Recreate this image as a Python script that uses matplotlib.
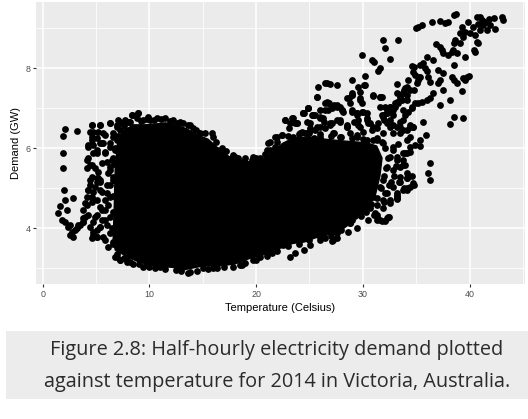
import matplotlib
matplotlib.use("Agg")
import matplotlib.pyplot as plt
from matplotlib.patches import Rectangle

# ---------------- data ----------------
# Dense core of the cloud (outline where the points overlap into solid black)
core_temp = [6.8, 7.8, 9.0, 10.5, 12.0, 13.5, 15.0, 16.5, 18.0, 19.5, 21.0, 22.3,
             23.5, 24.5, 25.5, 26.5, 27.5, 28.5, 29.5, 30.5, 31.2, 31.6, 31.8, 31.3,
             30.5, 29.5, 28.0, 26.5, 25.0, 23.5, 22.5, 21.5, 20.5, 19.5, 18.5, 17.5,
             16.5, 15.5, 14.5, 13.5, 12.5, 11.5, 10.5, 9.5, 8.5, 7.5, 7.0, 6.8, 6.7,
             6.6]
core_demand = [3.45, 3.3, 3.15, 3.05, 3.02, 2.97, 3.05, 3.05, 3.1, 3.25, 3.35, 3.5,
               3.62, 3.65, 3.75, 3.82, 3.85, 4.05, 4.25, 4.5, 4.85, 5.3, 5.75, 6.05,
               6.12, 6.15, 6.18, 6.22, 6.28, 6.25, 6.12, 5.9, 5.7, 5.66, 5.66, 5.78,
               5.98, 6.22, 6.33, 6.48, 6.58, 6.63, 6.6, 6.58, 6.58, 6.42, 6.1, 5.5, 4.5,
               3.7]

# Individually visible half-hourly observations (temperature, demand)
temp = [
    # hot end, top right
    38.75, 38.56, 40.68, 41.0, 41.15, 41.46, 41.78, 42.25, 43.03, 43.18, 41.93, 41.31,
    40.84, 41.0, 41.62, 42.4, 40.37, 40.06, 40.53, 40.68, 40.84, 40.43, 40.53, 39.59,
    39.28, 39.9, 39.12, 39.43, 39.12, 38.65, 38.5, 38.43, 38.81, 38.03, 37.71, 37.25,
    36.46, 35.53, 35.0, 35.21, 36.87, 37.25, 37.4, 37.56, 38.03, 38.34, 39.53, 38.56,
    31.93, 33.34, 32.09, 32.56, 31.62, 36.0, 36.62, 35.68, 35.37, 35.84, 36.0, 34.59,
    34.74, 34.9, 35.37, 35.21, 36.15, 36.31, 37.09, 37.56, 37.25, 37.09, 38.34, 38.5,
    38.81, 39.43, 39.74, 39.99, 39.59, 39.28, 37.56, 38.18, 37.25, 36.62, 36.31, 36.0,
    35.53, 35.21, 34.59, 34.28, 33.96, 34.43, 34.12, 34.28, 33.96, 33.81, 33.5, 33.65,
    33.34, 33.03, 32.87, 32.56, 32.25, 31.93, 31.78, 38.5, 39.43, 38.18, 35.68, 34.74,
    34.43, 33.5, 32.87, 32.25, 32.09,
    # warm band
    29.9, 30.84, 31.06, 31.46, 28.96, 30.21, 29.59, 27.56, 26.62, 25.84, 25.68, 28.5,
    28.96, 29.75, 30.99, 31.62, 30.21, 30.37, 30.53, 26.62, 27.25, 26.78, 27.87, 28.18,
    28.96, 29.43, 29.59, 24.43, 24.9, 25.37, 26.0, 24.75, 25.06, 25.53, 26.46, 27.09,
    27.56, 28.5, 28.81, 27.87, 27.25, 26.0, 24.59, 25.21, 31.78, 32.25, 31.62, 32.56,
    33.18, 33.81, 34.12, 33.5, 34.43, 34.74, 35.93, 35.37, 35.37, 34.43, 34.12, 33.81,
    33.5, 34.12, 34.74, 34.12, 33.5, 33.18, 33.18, 32.87, 36.31, 36.15, 36.31, 31.31,
    31.62, 32.09, 32.4, 31.15, 32.56, 32.25, 31.93, 28.81, 27.25, 27.56,
    32.87, 32.56, 32.25, 33.18, 32.87, 31.93, 31.62, 31.0, 31.31, 31.93, 30.99, 30.06,
    30.37, 29.43,
    33.98, 33.98, 33.35, 34.13, 34.6, 34.76, 33.82, 34.13, 33.2, 33.2, 32.41, 32.1,
    31.95, 31.32, 31.01, 31.32, 31.79, 32.26, 32.41, 30.7, 30.07, 28.82, 27.57, 27.1,
    26.48, 26.01, 25.07, 24.45, 23.66, 23.2,
    26.48, 26.88, 30.07, 28.98, 28.66, 29.76, 33.2, 33.82, 34.76, 26.79, 27.26, 27.57,
    28.04, 28.82, 29.45, 29.91, 30.38, 24.45, 25.23, 26.01, 22.73, 23.35, 23.66, 24.29,
    22.41, 21.95, 23.04, 21.79,
    25.07, 25.7, 26.32, 26.95, 27.88, 28.51, 29.13, 29.76, 30.7, 31.32, 31.95, 32.26,
    32.57, 33.04, 33.51, 34.13, 34.76, 35.07, 35.23, 33.2, 24.76, 27.26, 29.45, 25.38,
    25.68, 24.43, 24.9, 23.8, 25.37, 26.3, 26.77, 27.09, 27.56, 28.02, 26.46, 25.99,
    26.93, 27.87, 28.49, 28.96, 28.96, 29.74, 29.9, 29.43, 30.05, 30.37, 29.59, 30.99,
    31.62, 31.93, 32.56, 32.87, 33.18, 33.8, 34.12, 34.59, 34.9, 33.8, 33.49, 32.56,
    32.87, 33.8, 34.43, 34.12, 34.9, 34.43, 33.8, 33.18, 33.8, 33.49, 34.12, 34.43,
    33.8, 33.18, 32.56, 31.93, 31.3, 30.84, 31.3, 31.93, 31.46, 23.49, 24.12, 25.06,
    23.43,
    # ragged right and top border of the dense core
    29.0, 29.8, 30.3, 28.0, 27.8, 30.8, 31.3, 31.7, 32.0, 32.2, 32.4, 32.1, 32.8, 32.9,
    33.1, 32.6, 33.3, 30.5, 29.5, 28.6,
    24.0, 25.0, 26.0, 27.0, 28.0, 29.0, 30.0, 31.0, 31.8, 23.0, 22.0, 21.3,
    # upper and lower edge of the main cloud
    10.06, 10.69, 11.47, 11.94, 12.56, 13.19, 13.81, 14.12, 14.75, 15.84, 16.0, 16.78,
    16.94, 17.87, 18.34, 18.65, 19.59, 19.75, 20.37, 21.15, 21.31, 21.78, 22.4, 22.72,
    23.19, 23.81, 24.43, 24.9, 25.53, 26.0, 26.47, 21.78, 21.0, 16.31, 17.72, 13.34,
    15.69,
    9.2, 9.8, 10.4, 11.1, 12.2, 12.9, 13.6, 14.4, 15.2, 16.2, 17.2, 18.0, 19.0, 20.0,
    20.8,
    13.81, 11.94, 13.19, 15.06, 16.31, 17.87, 18.65, 19.75, 20.37, 21.62, 22.56, 23.5,
    10.06, 11.0, 13.66, 7.9, 8.5, 12.5, 14.5, 16.0, 17.0, 19.0, 21.0, 22.0, 9.0, 8.2,
    10.5,
    7.0, 7.6, 10.0, 11.5, 13.0, 15.5, 18.5, 20.0, 21.5, 23.0, 24.0, 25.0, 26.0, 27.0,
    # cold end, left
    2.09, 1.94, 3.19, 1.94, 1.94, 2.0, 2.09, 2.87, 1.62, 1.47, 2.25, 1.78, 2.09, 2.56,
    2.72, 2.56, 2.87, 3.19, 3.5, 3.81, 4.28, 3.97, 4.59, 4.28, 5.06, 4.44, 5.06, 5.37,
    4.12, 4.59, 5.22, 4.12, 4.75, 5.06, 4.28, 4.59, 4.44, 4.59, 5.37, 5.22, 5.06, 5.53,
    5.84, 6.0, 5.84, 6.31, 6.94, 7.25, 7.72, 8.34, 8.97, 8.19, 8.81, 9.44, 9.9, 6.62,
    6.31, 6.78, 6.62, 6.31, 6.62, 6.31, 6.0, 5.53, 5.84, 4.9, 5.06, 5.37, 4.75, 5.06,
    4.59, 5.84, 6.16, 6.94, 7.25, 7.87, 9.75, 9.44, 3.81, 4.9, 5.53, 6.94, 7.25, 7.87,
    7.56, 7.25, 7.25,
    2.4, 3.03, 3.34, 3.8, 3.96, 3.8, 4.12, 4.59, 4.12, 4.28, 4.74, 4.43, 5.06, 4.59,
    5.21, 5.37, 4.43, 4.9, 4.28, 5.06, 4.74, 5.37, 4.28, 4.59, 4.74, 4.59, 5.37, 5.68,
    5.68, 5.84, 5.53, 5.37, 5.84, 5.37, 5.06, 4.74, 4.43, 4.74, 5.06, 5.37, 5.68, 5.84,
    5.53, 6.0, 6.15, 6.31, 7.09, 6.93, 7.4, 7.87, 8.34, 8.96, 6.62, 6.31, 6.46, 6.31,
    6.62, 6.31, 6.15, 6.31, 6.0, 6.31, 6.62, 6.78, 7.24, 9.74,
    6.6, 6.5, 6.55, 6.6, 6.65, 6.7, 6.8, 7.1, 7.6, 8.1,
]
demand = [
    9.34, 9.33, 9.28, 9.27, 9.2, 9.16, 9.22, 9.24, 9.28, 9.2, 9.08, 9.08,
    9.1, 8.95, 8.95, 8.97, 9.03, 8.87, 8.82, 8.66, 8.62, 8.45, 8.41, 8.91,
    9.03, 9.16, 8.87, 8.78, 8.62, 8.7, 8.62, 8.45, 8.37, 9.16, 9.12, 9.18,
    9.16, 9.08, 8.99, 9.02, 8.6, 8.53, 8.45, 8.37, 8.32, 8.41, 8.27, 8.08,
    8.7, 8.7, 8.49, 8.22, 7.99, 8.27, 8.2, 8.13, 8.08, 7.99, 7.93, 8.05,
    7.91, 7.82, 7.78, 7.7, 7.78, 7.66, 7.95, 7.87, 7.7, 7.62, 7.78, 7.7,
    7.62, 7.74, 7.78, 7.8, 7.7, 7.43, 7.45, 7.2, 7.08, 7.37, 7.24, 7.2,
    7.16, 7.12, 7.03, 6.91, 6.83, 7.45, 7.53, 7.7, 7.49, 7.37, 7.28, 7.2,
    7.12, 7.03, 6.95, 6.95, 6.87, 6.78, 7.28, 6.78, 6.74, 6.6, 6.66, 6.53,
    6.58, 6.53, 6.58, 6.62, 7.03,
    8.33, 8.2, 8.16, 7.93, 7.7, 7.8, 7.53, 7.58, 7.62, 7.53, 7.28, 7.24,
    7.33, 7.2, 7.31, 7.28, 7.58, 6.87, 6.62, 7.16, 7.03, 6.95, 7.03, 6.91,
    6.95, 6.83, 6.7, 6.87, 6.99, 6.83, 6.74, 6.66, 6.49, 6.45, 6.49, 6.62,
    6.7, 6.53, 6.37, 6.28, 6.37, 6.28, 6.37, 6.2, 6.82, 6.95, 7.03, 6.7,
    6.53, 6.7, 6.45, 6.37, 6.28, 6.53, 6.33, 6.2, 6.06, 6.03, 5.87, 5.7,
    5.53, 5.37, 5.12, 4.99, 5.16, 4.87, 4.74, 5.03, 5.62, 5.37, 5.2, 4.28,
    4.2, 4.18, 4.27, 4.37, 4.62, 4.87, 4.7, 4.12, 3.7, 3.87,
    6.03, 5.78, 5.53, 5.78, 5.45, 5.2, 5.03, 4.78, 6.2, 6.37, 6.53, 6.41,
    6.2, 6.28,
    5.87, 5.57, 5.16, 5.24, 5.3, 5.08, 4.99, 4.95, 4.83, 4.72, 5.08, 4.87,
    4.66, 4.58, 4.33, 4.2, 4.18, 4.24, 4.28, 4.49, 4.45, 4.12, 3.74, 3.68,
    3.74, 3.7, 3.58, 3.45, 3.37, 3.28,
    7.62, 7.6, 7.58, 7.37, 7.24, 7.41, 7.6, 7.45, 8.03, 7.13, 7.07, 7.03,
    6.95, 7.12, 6.87, 6.91, 6.74, 6.88, 6.83, 6.95, 6.7, 6.74, 6.62, 6.41,
    6.33, 6.27, 6.49, 6.03,
    6.62, 6.53, 6.66, 6.58, 6.7, 6.53, 6.66, 6.53, 6.62, 6.49, 6.7, 6.87,
    7.03, 7.12, 7.2, 7.33, 7.45, 7.62, 7.78, 7.37, 6.37, 6.37, 6.33, 6.24,
    7.27, 6.88, 6.99, 6.62, 6.83, 6.74, 7.12, 6.99, 7.08, 6.95, 6.95, 6.53,
    6.62, 6.66, 6.58, 6.91, 7.33, 7.24, 7.12, 6.87, 6.91, 6.7, 6.58, 7.33,
    7.28, 6.83, 7.03, 6.83, 7.16, 7.37, 7.2, 6.99, 7.12, 6.95, 6.66, 6.53,
    6.37, 6.45, 6.53, 6.2, 6.07, 5.91, 5.87, 5.7, 5.57, 5.28, 5.24, 5.03,
    4.95, 4.78, 4.7, 4.49, 4.32, 6.45, 6.24, 6.12, 6.62, 6.74, 6.37, 6.45,
    6.28,
    4.2, 4.3, 4.4, 3.95, 4.0, 4.6, 4.75, 5.0, 5.3, 5.5, 5.75, 6.0, 5.95, 5.3,
    5.55, 5.15, 6.1, 4.2, 4.0, 3.9,
    6.35, 6.38, 6.35, 6.3, 6.28, 6.25, 6.22, 6.2, 6.15, 6.3, 6.15, 5.95,
    6.7, 6.74, 6.74, 6.68, 6.62, 6.62, 6.58, 6.49, 6.37, 6.37, 6.28, 5.99,
    5.87, 5.83, 5.74, 5.66, 5.7, 5.78, 5.74, 6.12, 6.16, 6.28, 6.33, 6.7,
    6.62, 6.62, 6.87, 6.99, 6.83, 6.78, 7.12, 5.91, 5.95, 5.95, 5.74, 6.37,
    5.95,
    6.68, 6.72, 6.7, 6.72, 6.7, 6.65, 6.58, 6.45, 6.38, 6.15, 5.92, 5.78, 5.75, 5.76,
    5.85,
    2.91, 3.16, 3.03, 2.99, 2.99, 3.03, 3.07, 3.2, 3.28, 3.49, 3.58, 3.7,
    3.12, 3.03, 2.87, 3.16, 3.1, 2.95, 2.93, 3.0, 3.02, 3.12, 3.3, 3.42, 3.1, 3.15,
    3.0,
    3.35, 3.25, 3.02, 2.98, 2.92, 2.98, 3.08, 3.2, 3.38, 3.55, 3.6, 3.7, 3.78, 3.8,
    6.47, 6.3, 6.43, 5.87, 5.49, 4.95, 4.7, 4.74, 4.55, 4.37, 4.45, 4.2, 4.16, 4.07,
    3.91, 3.82, 3.78, 3.99, 4.07, 4.24, 4.32, 4.62, 4.78, 4.95, 4.7, 5.2, 5.24, 5.16,
    5.49, 5.58, 5.41, 5.7, 5.87, 5.95, 6.08, 6.28, 6.41, 6.58, 6.58, 6.41, 6.24, 6.12,
    5.91, 5.66, 6.33, 6.62, 6.58, 6.66, 6.7, 6.83, 6.87, 6.66, 6.74, 6.7, 6.78, 6.37,
    6.12, 5.95, 5.74, 5.45, 5.28, 5.08, 4.87, 4.45, 4.2, 4.28, 3.95, 4.03, 3.82, 3.78,
    3.74, 3.7, 3.53, 3.28, 3.2, 3.28, 3.08, 3.03, 4.16, 5.03, 4.91, 6.2, 6.45, 6.41,
    6.12, 5.87, 5.53,
    4.03, 3.95, 4.08, 4.16, 4.28, 4.45, 4.58, 4.66, 4.78, 4.95, 4.91, 5.08, 5.16, 5.28,
    5.24, 5.2, 5.58, 5.49, 5.74, 5.87, 6.07, 6.12, 6.03, 6.2, 6.41, 6.58, 6.58, 6.37,
    6.12, 5.87, 5.62, 4.95, 4.7, 4.53, 4.33, 4.16, 4.03, 3.91, 3.78, 4.03, 3.78, 4.45,
    4.2, 5.08, 5.37, 6.62, 6.7, 6.53, 6.62, 6.66, 6.83, 6.87, 6.28, 6.03, 5.7, 5.53,
    5.2, 4.78, 4.58, 4.28, 4.08, 3.87, 3.66, 3.28, 3.2, 3.08,
    3.6, 4.0, 4.4, 4.8, 5.2, 5.6, 6.0, 6.3, 6.55, 6.65,
]

x_ticks = [0, 10, 20, 30, 40]
y_ticks = [4, 6, 8]
x_label = "Temperature (Celsius)"
y_label = "Demand (GW)"
caption_lines = ["Figure 2.8: Half-hourly electricity demand plotted",
                 "against temperature for 2014 in Victoria, Australia."]

# ---------------- figure ----------------
W, H = 528, 419
fig = plt.figure(figsize=(W / 100, H / 100), dpi=100)
fig.patch.set_facecolor("white")

ax = fig.add_axes([36 / W, 1 - 284 / H, (525 - 36) / W, (284 - 1.7) / H])
ax.set_facecolor("#EBEBEB")
for s in ax.spines.values():
    s.set_visible(False)

ax.set_xlim(-0.63, 45.2)
ax.set_ylim(2.6, 9.66)
ax.set_xticks(x_ticks)
ax.set_yticks(y_ticks)
ax.set_xticks([5, 15, 25, 35, 45], minor=True)
ax.set_yticks([3, 5, 7, 9], minor=True)
ax.grid(True, which="major", color="white", linewidth=1.1)
ax.grid(True, which="minor", color="white", linewidth=0.55)
ax.set_axisbelow(True)
ax.tick_params(which="major", length=2.5, width=0.8, color="#333333",
               labelsize=6.4, labelcolor="#4D4D4D", pad=1.5)
ax.tick_params(which="minor", length=0)

ax.fill(core_temp, core_demand, color="black", lw=1.0, zorder=2)
ax.scatter(temp, demand, s=24, c="black", linewidths=0, zorder=3)

fam = ["Liberation Sans", "DejaVu Sans"]
for lab in ax.get_xticklabels() + ax.get_yticklabels():
    lab.set_family(fam)
ax.set_xlabel(x_label, fontsize=8, family=fam, color="black", labelpad=3)
ax.set_ylabel(y_label, fontsize=8, family=fam, color="black", labelpad=3)

# caption box
fig.patches.append(Rectangle((6 / W, 1 - 399 / H), (W - 6) / W, 68 / H,
                             transform=fig.transFigure, facecolor="#ECECEC",
                             edgecolor="none", zorder=0))
cap_fam = ["Open Sans", "DejaVu Sans"]
fig.text(277 / W, 1 - 355 / H, caption_lines[0], ha="center", va="baseline",
         fontsize=14.3, family=cap_fam, color="#2b2b2b")
fig.text(277 / W, 1 - 387.3 / H, caption_lines[1], ha="center", va="baseline",
         fontsize=14.3, family=cap_fam, color="#2b2b2b")

fig.savefig("out.png", dpi=100, facecolor="white")
